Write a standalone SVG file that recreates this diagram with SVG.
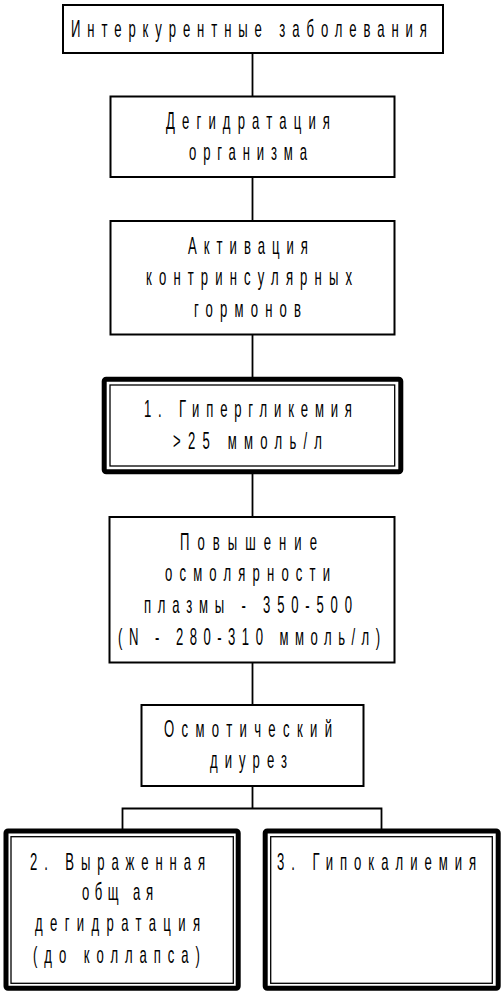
<svg xmlns="http://www.w3.org/2000/svg" width="503" height="993" viewBox="0 0 503 993">
<style>
.box{fill:#fff;stroke:#000;stroke-width:2}
.thick{fill:#fff;stroke:#000;stroke-width:5}
.inner{fill:none;stroke:#000;stroke-width:1.3}
.conn{fill:none;stroke:#000;stroke-width:1.8}
text{font-family:"Liberation Sans",Arial,sans-serif;font-size:23px;fill:#000}
</style>
<rect width="503" height="993" fill="#fff"/>
<g id="connectors">
<path class="conn" d="M252.5 53V96M252.5 177V221M252.5 335V377M252.5 474V517M252.5 663V705M252.5 786V808.5M122.5 829V808.5H381.5V829"/>
</g>
<g id="n1">
<rect class="box" x="63" y="5" width="380" height="48"/>
<text transform="scale(0.57 1)" x="124.5" y="37" textLength="624.5" lengthAdjust="spacing">Интеркурентные заболевания</text>
</g>
<g id="n2">
<rect class="box" x="110.5" y="96.5" width="284" height="80.5"/>
<text transform="scale(0.57 1)" x="291.2" y="129.5" textLength="287.7" lengthAdjust="spacing">Дегидратация</text>
<text transform="scale(0.57 1)" x="331.6" y="160.5" textLength="207" lengthAdjust="spacing">организма</text>
</g>
<g id="n3">
<rect class="box" x="110.5" y="221" width="284" height="113.5"/>
<text transform="scale(0.57 1)" x="329.8" y="254" textLength="210.5" lengthAdjust="spacing">Активация</text>
<text transform="scale(0.57 1)" x="256.1" y="285" textLength="361.4" lengthAdjust="spacing">контринсулярных</text>
<text transform="scale(0.57 1)" x="340.3" y="317" textLength="187.7" lengthAdjust="spacing">гормонов</text>
</g>
<g id="n4">
<rect class="thick" x="104.2" y="379.2" width="296.6" height="92.6" rx="2"/>
<rect class="inner" x="110" y="385" width="284.7" height="81"/>
<text transform="scale(0.57 1)" x="252.6" y="417" textLength="364.9" lengthAdjust="spacing">1. Гипергликемия</text>
<text transform="scale(0.57 1)" x="303.5" y="449" textLength="261.4" lengthAdjust="spacing">&gt;25 ммоль/л</text>
</g>
<g id="n5">
<rect class="box" x="109.5" y="517" width="285" height="145.5"/>
<text transform="scale(0.57 1)" x="315.8" y="550" textLength="240.3" lengthAdjust="spacing">Повышение</text>
<text transform="scale(0.57 1)" x="289.5" y="581.5" textLength="289.5" lengthAdjust="spacing">осмолярности</text>
<text transform="scale(0.57 1)" x="252.6" y="613" textLength="364.9" lengthAdjust="spacing">плазмы - 350-500</text>
<text transform="scale(0.57 1)" x="207.1" y="645.5" textLength="459.7" lengthAdjust="spacing">(N - 280-310 ммоль/л)</text>
</g>
<g id="n6">
<rect class="box" x="141.5" y="705" width="222" height="81"/>
<text transform="scale(0.57 1)" x="287.7" y="737" textLength="294.7" lengthAdjust="spacing">Осмотический</text>
<text transform="scale(0.57 1)" x="368.4" y="768" textLength="135.1" lengthAdjust="spacing">диурез</text>
</g>
<g id="n7">
<rect class="thick" x="6" y="831" width="232.2" height="157.3" rx="2"/>
<rect class="inner" x="11" y="836.7" width="222.3" height="146.6"/>
<text transform="scale(0.57 1)" x="52.6" y="870" textLength="307.1" lengthAdjust="spacing">2. Выраженная</text>
<text transform="scale(0.57 1)" x="143.9" y="900.5" textLength="124.5" lengthAdjust="spacing">общ ая</text>
<text transform="scale(0.57 1)" x="61.4" y="931.5" textLength="289.5" lengthAdjust="spacing">дегидратация</text>
<text transform="scale(0.57 1)" x="57.9" y="963" textLength="292.9" lengthAdjust="spacing">(до коллапса)</text>
</g>
<g id="n8">
<rect class="thick" x="265.2" y="831" width="233" height="157.3" rx="2"/>
<rect class="inner" x="270.7" y="836.7" width="221.6" height="146.6"/>
<text transform="scale(0.57 1)" x="486" y="870" textLength="349.2" lengthAdjust="spacing">3. Гипокалиемия</text>
</g>
</svg>
